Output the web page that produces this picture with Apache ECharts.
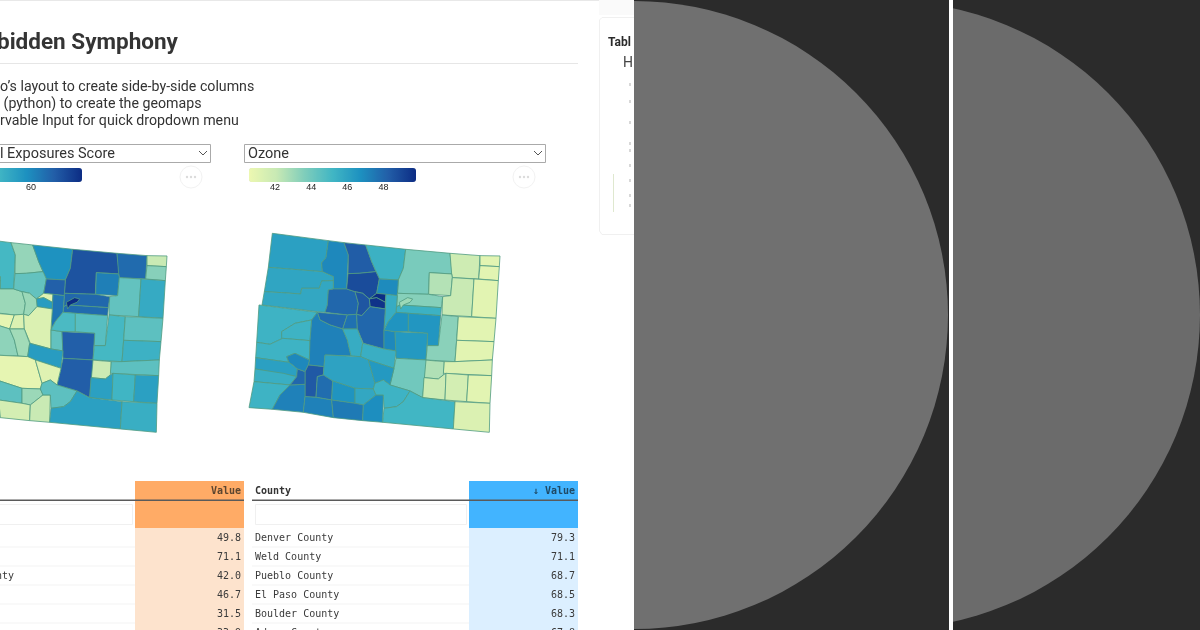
<!DOCTYPE html>
<html lang="en">

<head>
    <meta charset="UTF-8">
    <title>Hidden Symphony</title>
    <script type="text/javascript" src="https://cdn.jsdelivr.net/npm/echarts@6/dist/echarts.min.js"></script>
    <style>
        html, body { margin: 0; padding: 0; background: #fff; overflow: hidden; }
    </style>
</head>

<body>
    <div id="main" style="width:1200px;height:630px;"></div>
</body>
<script type="text/javascript">

    // page text
    var pageTitle = 'bidden Symphony';
    var bulletLines = ['o\u2019s layout to create side-by-side columns', ' (python) to create the geomaps', 'rvable Input for quick dropdown menu'];
    var leftSelect = 'l Exposures Score';
    var rightSelect = 'Ozone';

    // legends, the left one only shows its part that is on the page
    var exposureRange = [16.1, 79.3];
    var exposureVisible = [48.27, 79.3];
    var exposureTicks = [60];
    var ozoneRange = [40.56, 49.8];
    var ozoneTicks = [42, 44, 46, 48];
    var ylGnBu = ['#edf8b1', '#c7e9b4', '#7fcdbb', '#41b6c4', '#1d91c0', '#225ea8', '#0c2c84'];

    // counties, same order in all three lists
    var countyNames = ['Moffat', 'Routt', 'Jackson', 'Larimer', 'Weld', 'Logan', 'Sedgwick', 'Phillips', 'Morgan', 'Washington', 'Yuma',
        'Rio Blanco', 'Garfield', 'Eagle', 'Grand', 'Boulder', 'Gilpin', 'Clear Creek', 'Summit', 'Adams', 'Arapahoe', 'Denver', 'Jefferson',
        'Mesa', 'Delta', 'Pitkin', 'Lake', 'Park', 'Teller', 'Douglas', 'Elbert', 'El Paso', 'Lincoln', 'Kit Carson', 'Cheyenne', 'Kiowa', 'Crowley',
        'Montrose', 'Gunnison', 'Chaffee', 'Fremont', 'Pueblo', 'Ouray', 'San Miguel', 'Dolores', 'Hinsdale', 'Saguache', 'Custer', 'Otero', 'Bent', 'Prowers',
        'Montezuma', 'La Plata', 'San Juan', 'Mineral', 'Rio Grande', 'Alamosa', 'Archuleta', 'Conejos', 'Costilla', 'Huerfano', 'Las Animas', 'Baca'];
    var ozoneValues = [46.1, 47.0, 48.3, 45.4, 43.8, 41.8, 41.0, 41.0, 42.5, 42.0, 41.0,
        45.9, 45.8, 48.0, 48.8, 46.9, 49.8, 49.6, 48.5, 43.5, 45.4, 43.0, 45.6,
        45.3, 45.3, 47.9, 47.7, 48.0, 47.0, 46.6, 46.5, 46.4, 43.4, 41.0, 41.0, 41.3, 42.6,
        45.3, 47.2, 45.6, 45.5, 44.0, 47.0, 46.1, 45.5, 48.4, 46.0, 46.4, 41.9, 41.6, 41.0,
        45.3, 47.2, 48.0, 47.8, 46.6, 45.8, 47.2, 47.4, 46.8, 45.3, 45.2, 41.3];
    var exposureValues = [40, 47, 34, 58, 71.1, 66, 26, 36, 62, 42, 51,
        40, 40, 33, 42, 68.3, 20, 55, 33, 67, 66, 79.3, 64,
        40, 40, 18, 21, 21, 42, 46, 44, 68.5, 47, 43, 49, 43, 25,
        35, 35, 32, 55, 68.7, 30, 30, 40, 25, 18, 20, 54, 48, 54,
        42, 30, 25, 28, 43, 33, 24, 23, 26, 43, 54, 50];

    // county outlines, in the map's own units
    var countyOutlines = [
        [[97, 25], [265, 47], [258, 98], [245, 113], [247, 140], [85, 127]],
        [[265, 47], [312, 53], [325, 90], [322, 150], [320, 192], [280, 192], [280, 155], [247, 140], [245, 113], [258, 98]],
        [[312, 53], [377, 60], [395, 110], [408, 140], [358, 145], [324, 146], [325, 90]],
        [[377, 60], [497, 73], [490, 130], [475, 165], [418, 162], [395, 110]],
        [[497, 73], [630, 85], [637, 147], [568, 143], [565, 208], [472, 205], [475, 165], [490, 130]],
        [[630, 85], [720, 92], [716, 162], [637, 158], [635, 147]],
        [[720, 92], [780, 93], [778, 125], [720, 122]],
        [[720, 122], [778, 125], [775, 167], [716, 162]],
        [[568, 143], [635, 147], [637, 158], [632, 212], [566, 208]],
        [[637, 158], [702, 162], [695, 275], [606, 270], [608, 215], [632, 212]],
        [[702, 162], [775, 167], [768, 280], [695, 275]],
        [[85, 127], [247, 140], [280, 155], [280, 167], [245, 168], [238, 190], [185, 190], [182, 207], [125, 203], [73, 200]],
        [[73, 200], [125, 203], [182, 207], [185, 190], [238, 190], [245, 168], [280, 167], [280, 192], [265, 195], [262, 240], [255, 262], [232, 260], [66, 240]],
        [[265, 195], [280, 192], [320, 192], [345, 200], [355, 235], [350, 268], [322, 270], [255, 262], [262, 240]],
        [[324, 146], [358, 145], [408, 140], [418, 162], [410, 205], [388, 222], [368, 205], [345, 200], [320, 192]],
        [[418, 162], [475, 165], [472, 212], [438, 208], [410, 205]],
        [[388, 222], [410, 205], [438, 208], [436, 232], [410, 218]],
        [[388, 222], [410, 218], [436, 232], [436, 252], [390, 245]],
        [[345, 200], [368, 205], [388, 222], [390, 245], [365, 272], [350, 268], [355, 235]],
        [[472, 205], [566, 208], [608, 215], [604, 248], [480, 240], [470, 245]],
        [[470, 245], [480, 240], [604, 248], [602, 272], [505, 265], [468, 262]],
        [[478, 232], [503, 218], [518, 222], [510, 232], [490, 240], [482, 252]],
        [[438, 208], [472, 212], [468, 262], [445, 290], [432, 312], [436, 252]],
        [[57, 240], [232, 262], [215, 285], [165, 295], [125, 320], [128, 340], [90, 358], [50, 352]],
        [[125, 320], [165, 295], [215, 285], [210, 347], [125, 340]],
        [[232, 262], [322, 270], [308, 312], [270, 300], [240, 285]],
        [[322, 270], [350, 268], [352, 312], [308, 312]],
        [[365, 272], [390, 245], [436, 252], [432, 312], [432, 372], [370, 355], [352, 312], [350, 268]],
        [[432, 315], [465, 320], [468, 378], [432, 372]],
        [[445, 290], [468, 262], [505, 265], [505, 320], [465, 320], [432, 315]],
        [[505, 265], [602, 272], [595, 362], [562, 362], [563, 325], [505, 320]],
        [[465, 320], [563, 325], [558, 405], [468, 400]],
        [[606, 270], [655, 275], [645, 410], [558, 405], [562, 362], [595, 362]],
        [[655, 275], [768, 280], [762, 350], [650, 346]],
        [[650, 346], [762, 350], [757, 405], [645, 410]],
        [[612, 410], [645, 410], [757, 405], [755, 452], [610, 445]],
        [[552, 405], [612, 410], [610, 450], [595, 462], [552, 458]],
        [[50, 352], [90, 358], [128, 340], [210, 347], [208, 405], [165, 385], [140, 395], [147, 412], [47, 398]],
        [[215, 285], [232, 262], [240, 285], [270, 300], [308, 312], [322, 345], [333, 393], [255, 390], [252, 425], [205, 420], [208, 405], [210, 347]],
        [[308, 312], [352, 312], [368, 355], [362, 395], [333, 393], [322, 345]],
        [[368, 355], [432, 372], [468, 378], [462, 430], [385, 405], [362, 395]],
        [[468, 400], [558, 405], [548, 518], [510, 498], [450, 480], [462, 430]],
        [[140, 395], [165, 385], [208, 405], [205, 420], [195, 440], [172, 432], [147, 412]],
        [[47, 398], [147, 412], [172, 432], [170, 455], [45, 432]],
        [[45, 432], [130, 445], [170, 455], [150, 480], [42, 470]],
        [[205, 420], [252, 425], [250, 450], [232, 455], [228, 517], [195, 515], [195, 440]],
        [[255, 390], [362, 395], [385, 405], [405, 475], [400, 492], [345, 490], [278, 468], [250, 450], [252, 425]],
        [[385, 405], [462, 430], [450, 480], [430, 465], [405, 475]],
        [[552, 458], [595, 462], [610, 450], [618, 445], [615, 525], [548, 518]],
        [[618, 445], [685, 450], [680, 530], [615, 525]],
        [[685, 450], [755, 452], [750, 535], [680, 530]],
        [[42, 470], [150, 480], [120, 510], [97, 553], [27, 548]],
        [[150, 480], [195, 478], [195, 515], [190, 562], [97, 553], [120, 510]],
        [[150, 480], [170, 455], [172, 432], [195, 440], [195, 478]],
        [[232, 455], [250, 450], [278, 468], [275, 525], [228, 517]],
        [[278, 468], [345, 490], [345, 535], [275, 525]],
        [[345, 490], [400, 492], [408, 510], [370, 540], [345, 535]],
        [[195, 515], [228, 517], [275, 525], [280, 578], [190, 562]],
        [[275, 525], [345, 535], [370, 540], [368, 587], [280, 578]],
        [[370, 540], [408, 510], [430, 510], [428, 592], [368, 587]],
        [[405, 475], [430, 465], [450, 480], [510, 498], [490, 530], [470, 545], [432, 550], [430, 510], [408, 510], [400, 492]],
        [[510, 498], [548, 518], [645, 530], [640, 612], [428, 592], [432, 550], [470, 545], [490, 530]],
        [[645, 530], [750, 535], [748, 622], [640, 612]]
    ];

    // tables
    var rightCounties = ['Denver County', 'Weld County', 'Pueblo County', 'El Paso County', 'Boulder County', 'Adams County'];
    var rightRowValues = ['79.3', '71.1', '68.7', '68.5', '68.3', '67.8'];
    var leftRowValues = ['49.8', '71.1', '42.0', '46.7', '31.5', '33.9'];
    var leftNameTail = 'nty';

    // two names for one outline set: series sharing a map name get merged into one
    var countyGeo = {
        type: 'FeatureCollection',
        features: countyNames.map(function (name, i) {
            return {
                type: 'Feature',
                properties: { name: name },
                geometry: { type: 'Polygon', coordinates: [countyOutlines[i].concat([countyOutlines[i][0]])] }
            };
        })
    };
    echarts.registerMap('coloradoExposure', countyGeo);
    echarts.registerMap('coloradoOzone', countyGeo);

    function mapData(values) {
        return countyNames.map(function (name, i) {
            return { name: name, value: values[i] };
        });
    }

    function mapSeries(mapName, left, values) {
        return {
            type: 'map',
            map: mapName,
            left: left,
            top: 233.3,
            width: 251,
            height: 199,
            aspectScale: 1,
            projection: {
                project: function (p) { return p; },
                unproject: function (p) { return p; }
            },
            silent: true,
            label: { show: false },
            itemStyle: { borderColor: '#4f9a80', borderWidth: 0.8 },
            data: mapData(values)
        };
    }

    function legendMap(i, left, range) {
        return {
            type: 'continuous',
            seriesIndex: i,
            min: range[0],
            max: range[1],
            orient: 'horizontal',
            left: left,
            top: 168,
            padding: 0,
            itemWidth: 14,
            itemHeight: 167,
            calculable: false,
            hoverLink: false,
            inRange: { color: ylGnBu }
        };
    }

    function legendAxis(i, range, ticks) {
        return {
            gridIndex: i,
            type: 'value',
            min: range[0],
            max: range[1],
            axisLine: { show: false },
            axisTick: { show: false },
            splitLine: { show: false },
            axisLabel: { customValues: ticks, margin: 0, fontSize: 9, color: '#222', fontFamily: 'Liberation Sans' }
        };
    }

    function rect(x, y, w, h, fill, z) {
        return { type: 'rect', z: z || 1, shape: { x: x, y: y, width: w, height: h }, style: { fill: fill } };
    }

    function text(x, y, str, font, fill, align) {
        return {
            type: 'text', z: 5, x: x, y: y + 1,
            style: { text: str, font: font, fill: fill, align: align || 'left', verticalAlign: 'middle' }
        };
    }

    function box(x, y, w, h, stroke) {
        return { type: 'rect', z: 2, shape: { x: x + 0.5, y: y + 0.5, width: w, height: h }, style: { fill: '#fff', stroke: stroke, lineWidth: 1 } };
    }

    function chevron(x, y) {
        return {
            type: 'polyline', z: 5,
            shape: { points: [[x - 4, y - 2], [x, y + 2], [x + 4, y - 2]] },
            style: { stroke: '#555', fill: 'none', lineWidth: 1 }
        };
    }

    function moreButton(x, y) {
        var parts = [{ type: 'circle', z: 2, shape: { cx: x, cy: y, r: 11 }, style: { fill: '#fff', stroke: '#f2f2f2', lineWidth: 1 } }];
        [-4, 0, 4].forEach(function (dx) {
            parts.push({ type: 'circle', z: 3, shape: { cx: x + dx, cy: y, r: 1.2 }, style: { fill: '#dcdcdc' } });
        });
        return parts;
    }

    var mono = '10px "DejaVu Sans Mono"';
    var monoBold = 'bold 10px "DejaVu Sans Mono"';
    var rowColor = '#3a3a3a';
    var els = [];

    // dark panels and their circles, later ones cover the earlier ones
    els.push(rect(953, 0, 247, 630, '#2b2b2b', -12));
    els.push({ type: 'circle', z: -11, shape: { cx: 886, cy: 315, r: 314 }, style: { fill: '#6b6b6b' } });
    els.push(rect(634, 0, 315, 630, '#2b2b2b', -10));
    els.push(rect(949, 0, 4, 630, '#ffffff', -10));
    els.push(rect(0, 0, 634, 630, '#ffffff', -10));
    els.push({ type: 'sector', z: -6, shape: { cx: 634, cy: 315, r0: 0, r: 314, startAngle: -Math.PI / 2, endAngle: Math.PI / 2, clockwise: true }, style: { fill: '#707070' } });

    // header
    els.push(rect(0, 0, 634, 1, '#e8e8e8'));
    els.push(text(-3, 42, pageTitle, 'bold 22.5px Roboto', '#343434'));
    els.push(rect(0, 63, 578, 1, '#e6e6e6'));
    bulletLines.forEach(function (line, i) {
        els.push(text(0, 86 + i * 17, line, '14.2px Roboto', '#333'));
    });

    // dropdowns
    els.push(box(-10, 144, 220, 18, '#aaa'));
    els.push(box(244, 144, 301, 18, '#aaa'));
    els.push(text(0, 153.5, leftSelect, '14.5px Roboto', '#333'));
    els.push(text(248, 153.5, rightSelect, '14.5px Roboto', '#333'));
    els.push(chevron(203, 153));
    els.push(chevron(538, 153));
    els = els.concat(moreButton(191, 177), moreButton(524, 177));

    // sidebar
    els.push(rect(599, 0, 35, 15, '#fafafa'));
    els.push({ type: 'polyline', z: 1, shape: { points: [[634, 17.5], [602, 17.5], [599.5, 20], [599.5, 231], [602, 234.5], [634, 234.5]] }, style: { stroke: '#f0f0f0', fill: 'none' } });
    els.push(text(608, 42, 'Tabl', 'bold 12px Roboto', '#2a2a2a'));
    els.push(text(623, 62, 'H', '14px Roboto', '#444'));
    [84, 101, 122, 143, 150, 165, 180, 195, 205].forEach(function (y) {
        els.push(rect(629, y - 1, 2, 3, '#d8d8d8'));
    });
    els.push(rect(613, 174, 1, 38, '#dfe8cf'));

    // tables
    function table(x, w, valueX, valueW, headColor, headFill, rowFill, names, values, nameHead, valueHead) {
        els.push(rect(valueX, 481, valueW, 47, headFill));
        els.push(rect(valueX, 528, valueW, 102, rowFill));
        els.push(rect(x, 499.5, w, 1.5, '#5a5a5a', 3));
        els.push(text(x + 3, 490, nameHead, monoBold, '#333'));
        els.push(text(valueX + valueW - 3, 490, valueHead, monoBold, headColor, 'right'));
        els.push(box(x + 3, 504, valueX - x - 6, 20, '#f0f0f0'));
        values.forEach(function (value, i) {
            var y = 537.5 + i * 19;
            if (names[i]) els.push(text(x + 3, y, names[i], mono, rowColor));
            els.push(text(valueX + valueW - 3, y, value, mono, rowColor, 'right'));
            els.push(rect(x, y + 9, valueX - x, 1, '#f4f4f4'));
        });
    }
    table(-82, 326, 135, 109, '#5c4630', '#ffab66', '#fde3cd', [], leftRowValues, '', 'Value');
    table(252, 326, 469, 109, '#1f4a66', '#42b4ff', '#dcefff', rightCounties, rightRowValues, 'County', '\u2193 Value');
    els.push(text(-4, 575.5, leftNameTail, mono, rowColor));

    var myChart = echarts.init(document.getElementById('main'));

    myChart.setOption({
        animation: false,
        backgroundColor: '#fff',
        grid: [
            { left: 0, top: 182, width: 82, height: 1 },
            { left: 249, top: 182, width: 167, height: 1 }
        ],
        xAxis: [legendAxis(0, exposureVisible, exposureTicks), legendAxis(1, ozoneRange, ozoneTicks)],
        yAxis: [
            { gridIndex: 0, show: false, min: 0, max: 1 },
            { gridIndex: 1, show: false, min: 0, max: 1 }
        ],
        visualMap: [legendMap(0, -85, exposureRange), legendMap(1, 249, ozoneRange)],
        graphic: { elements: els },
        series: [mapSeries('coloradoExposure', -84, exposureValues), mapSeries('coloradoOzone', 249, ozoneValues)]
    });
</script>

</html>
